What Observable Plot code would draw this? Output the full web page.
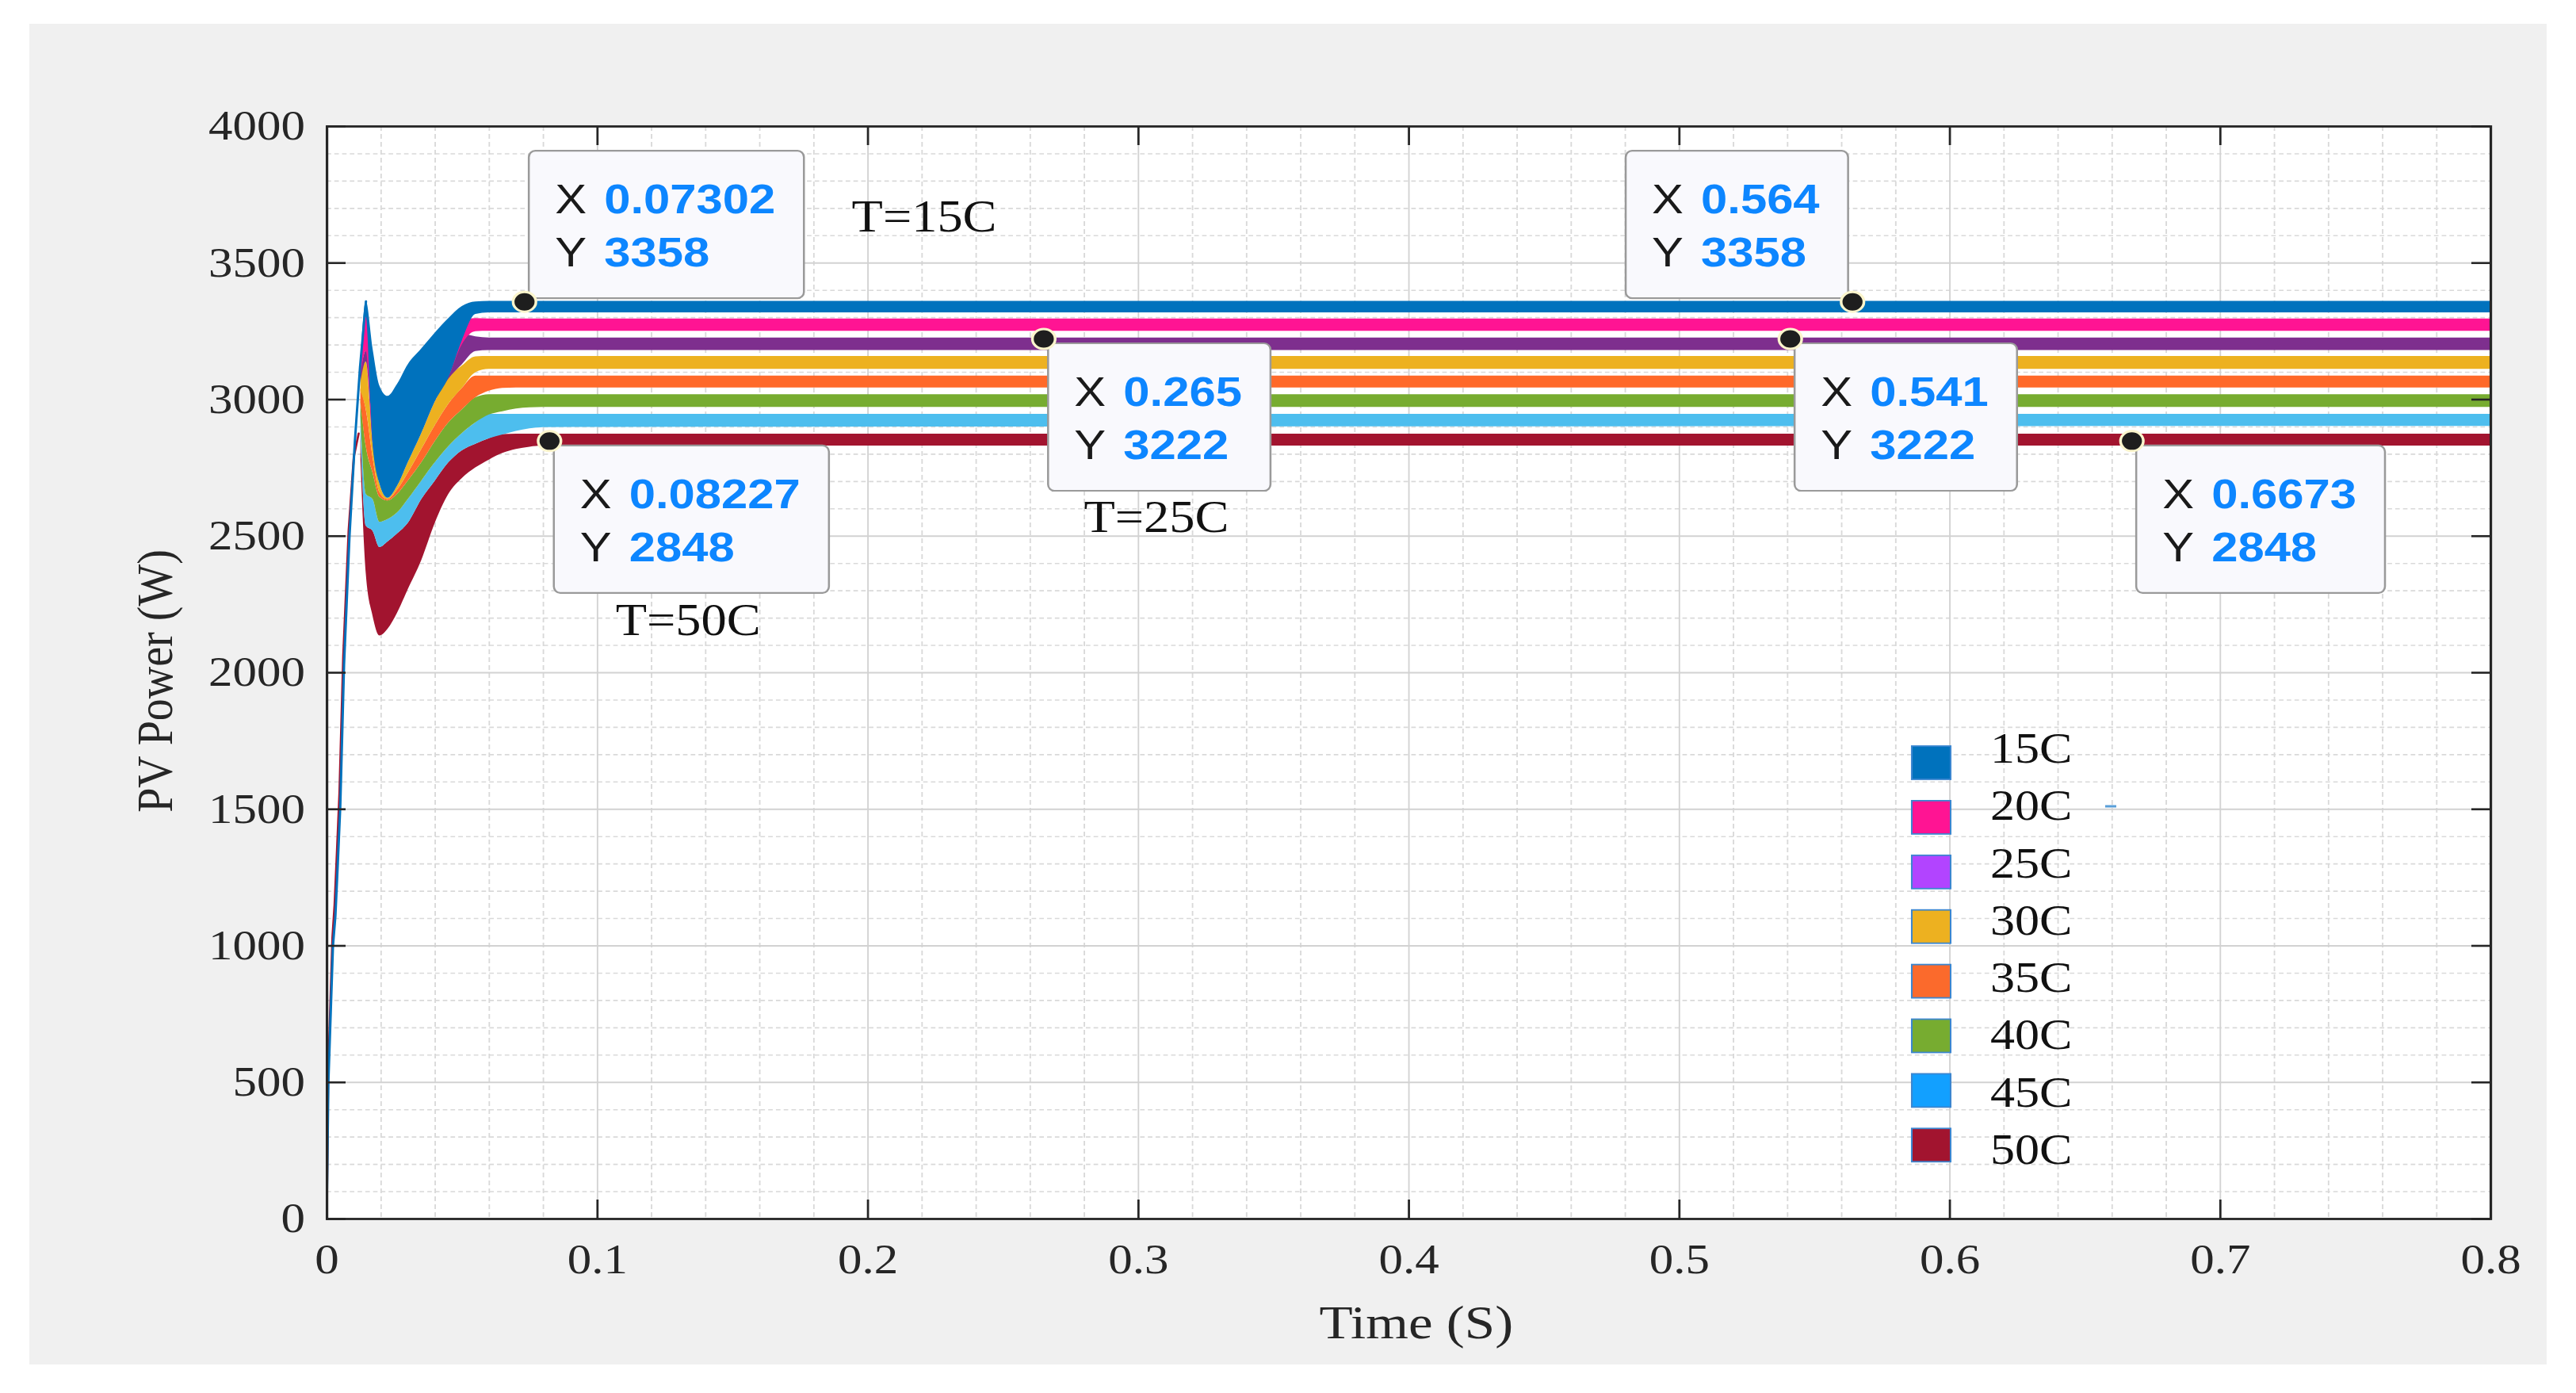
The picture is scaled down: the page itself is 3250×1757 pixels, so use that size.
<!DOCTYPE html>
<html><head><meta charset="utf-8">
<script src="https://cdn.jsdelivr.net/npm/d3@7"></script>
<script src="https://cdn.jsdelivr.net/npm/@observablehq/plot@0.6"></script>
<style>
html,body{margin:0;padding:0;background:#fff;}
#page{position:relative;width:3250px;height:1757px;overflow:hidden;background:#fff;}
#bg{position:absolute;left:36.5px;top:30px;width:3176.5px;height:1690.5px;background:#f0f0f0;}
#chart{position:absolute;left:0;top:0;width:2826.09px;height:1757px;transform:scaleX(1.15);transform-origin:0 0;}
</style></head><body><div id="page"><div id="bg"></div><div id="chart"></div></div>
<script>
// ---------- data ----------
const series = ["15C","20C","25C","30C","35C","40C","45C","50C"];
const lineColors = ["#0072bd","#ff1493","#7e2f8e","#edb120","#ff6929","#77ac30","#4dbeee","#a2142f"];
const legendColors = ["#0072bd","#ff1493","#b244ff","#edb120","#fb6a2c","#77ac30","#12a0ff","#a2142f"];

const time = [0.0125, 0.0145, 0.017, 0.0195, 0.0225, 0.026, 0.03, 0.035, 0.04, 0.045, 0.05, 0.055, 0.06, 0.065, 0.07, 0.075, 0.08, 0.8];
const hi15 = [3138, 3360, 3186, 3050, 3012, 3055, 3128, 3186, 3244, 3297, 3341, 3358, 3360, 3360, 3360, 3360, 3360, 3360];
const lo15 = [3099, 3302, 2837, 2692, 2639, 2682, 2769, 2876, 2992, 3079, 3215, 3312, 3318, 3318, 3318, 3318, 3318, 3318];
const hi20 = [3118, 3302, 3150, 3020, 2990, 3030, 3100, 3160, 3220, 3270, 3290, 3297, 3295, 3295, 3295, 3295, 3295, 3295];
const lo20 = [3079, 3176, 2840, 2700, 2645, 2690, 2775, 2880, 2995, 3080, 3201, 3249, 3250, 3250, 3250, 3250, 3250, 3250];
const hi25 = [3099, 3176, 3100, 3000, 2980, 3000, 3060, 3120, 3180, 3230, 3240, 3230, 3226, 3226, 3226, 3226, 3226, 3226];
const lo25 = [3060, 3138, 2840, 2700, 2645, 2690, 2775, 2880, 2995, 3075, 3128, 3176, 3180, 3180, 3180, 3180, 3180, 3180];
const hi30 = [3079, 3138, 2837, 2692, 2639, 2682, 2769, 2876, 2992, 3079, 3123, 3157, 3158, 3158, 3158, 3158, 3158, 3158];
const lo30 = [3030, 2963, 2789, 2660, 2634, 2668, 2731, 2818, 2905, 2983, 3041, 3099, 3111, 3111, 3111, 3111, 3111, 3111];
const hi35 = [3040, 2963, 2789, 2660, 2634, 2668, 2731, 2818, 2905, 2983, 3041, 3086, 3086, 3086, 3086, 3086, 3086, 3086];
const lo35 = [2990, 2828, 2731, 2643, 2629, 2653, 2702, 2769, 2847, 2915, 2963, 3007, 3031, 3041, 3043, 3043, 3043, 3043];
const hi40 = [3000, 2828, 2731, 2643, 2629, 2653, 2702, 2769, 2847, 2915, 2963, 3007, 3018, 3018, 3018, 3018, 3018, 3018];
const lo40 = [2940, 2653, 2634, 2551, 2561, 2585, 2634, 2702, 2769, 2828, 2876, 2915, 2944, 2956, 2966, 2970, 2972, 2972];
const hi45 = [2960, 2653, 2634, 2551, 2561, 2585, 2634, 2702, 2769, 2828, 2876, 2915, 2946, 2946, 2946, 2946, 2946, 2946];
const lo45 = [2880, 2537, 2518, 2459, 2479, 2508, 2547, 2634, 2702, 2769, 2813, 2837, 2857, 2871, 2884, 2893, 2898, 2902];
const hi50 = [2870, 2537, 2518, 2459, 2479, 2508, 2547, 2634, 2702, 2769, 2813, 2837, 2857, 2872, 2874, 2874, 2874, 2874];
const lo50 = [2780, 2362, 2207, 2135, 2159, 2217, 2304, 2411, 2547, 2653, 2711, 2750, 2779, 2803, 2818, 2826, 2830, 2830];

const riseTime = [0, 0.0005, 0.0022, 0.0031, 0.004, 0.0049, 0.0063, 0.0083, 0.0103, 0.0122, 0.0144];
const risePower = [110, 500, 1000, 1110, 1305, 1510, 2030, 2498, 2847, 3118, 3360];
const riseTime50 = [0, 0.0004, 0.002, 0.0028, 0.0037, 0.0046, 0.006, 0.008, 0.0099, 0.0117];
const risePower50 = [110, 520, 1030, 1150, 1350, 1560, 2060, 2520, 2790, 2876];

const tipX = [0.07302, 0.08227, 0.265, 0.564, 0.541, 0.6673];
const tipY = [3358, 2848, 3222, 3358, 3222, 2848];
const tipXLabel = ["0.07302", "0.08227", "0.265", "0.564", "0.541", "0.6673"];
const tipYLabel = ["3358", "2848", "3222", "3358", "3222", "2848"];

const noteText = ["T=15C", "T=25C", "T=50C"];
const noteX = [0.194, 0.2798, 0.1067];
const noteY = [3666, 2566, 2190];

const xTicks = [0, 0.1, 0.2, 0.3, 0.4, 0.5, 0.6, 0.7, 0.8];
const xTickLabels = ["0", "0.1", "0.2", "0.3", "0.4", "0.5", "0.6", "0.7", "0.8"];
const yTicks = [0, 500, 1000, 1500, 2000, 2500, 3000, 3500, 4000];
const yTickLabels = ["0", "500", "1000", "1500", "2000", "2500", "3000", "3500", "4000"];
const xTitle = "Time (S)";
const yTitle = "PV Power (W)";

// ---------- layout ----------
const S = 1.15;            // horizontal stretch of the reference figure
const P = v => v / S;      // page px (x) -> svg px
const frameL = P(412), frameR = P(3142), frameT = 159, frameB = 1537;
const frameW = frameR - frameL, frameH = frameB - frameT;
const SERIF = "Liberation Serif, Times New Roman, serif";
const SANS = "Liberation Sans, Arial, sans-serif";

const his = [hi15, hi20, hi25, hi30, hi35, hi40, hi45, hi50];
const los = [lo15, lo20, lo25, lo30, lo35, lo40, lo45, lo50];
const bands = series.map((s, k) => time.map((t, i) => ({t, hi: his[k][i], lo: los[k][i]})));
const rise = riseTime.map((t, i) => ({t, p: risePower[i]}));
const rise50 = riseTime50.map((t, i) => ({t, p: risePower50[i]}));
const xMinor = d3.range(0.02, 0.8, 0.02).filter(v => Math.abs(v * 10 - Math.round(v * 10)) > 1e-6);
const yMinor = d3.range(100, 4000, 100).filter(v => v % 500 !== 0);

const areaMarks = [];
for (let k = series.length - 1; k >= 0; k--) {
  areaMarks.push(Plot.areaY(bands[k], {x: "t", y1: "lo", y2: "hi", fill: lineColors[k], curve: "monotone-x"}));
}

const chart = Plot.plot({
  width: P(3250), height: 1757,
  marginLeft: frameL, marginRight: P(3250) - frameR, marginTop: frameT, marginBottom: 1757 - frameB,
  x: {domain: [0, 0.8]},
  y: {domain: [0, 4000]},
  style: {background: "transparent", maxWidth: "none", fontFamily: SERIF, fontSize: "53px", color: "#262626", overflow: "visible"},
  marks: [
    Plot.frame({fill: "white", stroke: "none"}),
    Plot.gridX(xMinor, {stroke: "#d9d9d9", strokeOpacity: 1, strokeWidth: 1.6, strokeDasharray: "6,4"}),
    Plot.gridY(yMinor, {stroke: "#d9d9d9", strokeOpacity: 1, strokeWidth: 1.6, strokeDasharray: "5,3.5"}),
    Plot.gridX(xTicks, {stroke: "#d2d2d2", strokeOpacity: 1, strokeWidth: 1.6}),
    Plot.gridY(yTicks, {stroke: "#d2d2d2", strokeOpacity: 1, strokeWidth: 1.8}),
    ...areaMarks,
    Plot.line(rise50, {x: "t", y: "p", stroke: lineColors[7], strokeWidth: 2.4, curve: "linear"}),
    Plot.line(rise, {x: "t", y: "p", stroke: lineColors[0], strokeWidth: 2.6, curve: "linear"}),
    Plot.frame({stroke: "#262626", strokeWidth: 2.8}),
    Plot.ruleX(xTicks, {x: d => d, insetTop: frameH - 24, stroke: "#262626", strokeWidth: 2.4}),
    Plot.ruleX(xTicks, {x: d => d, insetBottom: frameH - 24, stroke: "#262626", strokeWidth: 2.4}),
    Plot.ruleY(yTicks, {y: d => d, insetRight: frameW - P(24), stroke: "#262626", strokeWidth: 2.6}),
    Plot.ruleY(yTicks, {y: d => d, insetLeft: frameW - P(24), stroke: "#262626", strokeWidth: 2.6}),
    Plot.axisX(xTicks, {anchor: "bottom", tickSize: 0, tickPadding: 31, label: null, fontSize: 53,
      tickFormat: d => xTickLabels[xTicks.indexOf(d)]}),
    Plot.axisY(yTicks, {anchor: "left", tickSize: 0, tickPadding: 24, label: null, fontSize: 53,
      tickFormat: d => yTickLabels[yTicks.indexOf(d)]}),
    Plot.text(noteText, {x: (d, i) => noteX[i], y: (d, i) => noteY[i], text: d => d, textAnchor: "start",
      fontSize: 56, fill: "#111", fontFamily: SERIF}),
    Plot.text([xTitle], {frameAnchor: "bottom", dy: 151, dx: 8, text: d => d, fontSize: 60, fill: "#262626", fontFamily: SERIF}),
    Plot.dot(tipX.map((x, i) => ({x, y: tipY[i]})), {x: "x", y: "y", r: 12.5, fill: "#1e1e1e", stroke: "#fbf5cc", strokeWidth: 3})
  ]
});
document.getElementById("chart").appendChild(chart);

const svg = d3.select(chart);

// ---------- y-axis title (rotated) ----------
svg.append("text")
  .attr("transform", `translate(${P(196)},${(frameT + frameB) / 2 + 11}) rotate(-90)`)
  .attr("text-anchor", "middle").attr("dy", "0.32em")
  .attr("font-family", SERIF).attr("font-size", 56).attr("fill", "#262626")
  .text(yTitle);

// ---------- datatip boxes ----------
const sx = chart.scale("x"), sy = chart.scale("y");
const placement = ["ur", "lr", "lr", "ul", "lr", "lr"];
const boxLayer = svg.insert("g", "g[aria-label='dot']").attr("text-anchor", "start");
tipX.forEach((tx, i) => {
  const cx = sx.apply(tx), cy = sy.apply(tipY[i]);
  const g = boxLayer.append("g");
  const rect = g.append("rect").attr("rx", 7).attr("ry", 8)
    .attr("fill", "#f9f9fd").attr("stroke", "#9a9a9a").attr("stroke-width", 2.2);
  const mk = (label, bold, fill) => g.append("text").attr("text-anchor", "start").attr("font-family", SANS)
    .attr("font-size", 52).attr("font-weight", bold ? 700 : 400).attr("fill", fill).text(label);
  const xl = mk("X", false, "#1a1a1a"), yl = mk("Y", false, "#1a1a1a");
  const xv = mk(tipXLabel[i], true, "#0d86ff"), yv = mk(tipYLabel[i], true, "#0d86ff");
  const vw = Math.max(xv.node().getComputedTextLength(), yv.node().getComputedTextLength());
  const w = P(33) + P(62) + vw + P(36), h = 186;
  const left = placement[i] === "ul" ? cx - P(5) - w : cx + P(6);
  const top = placement[i] === "lr" ? cy + 6 : cy - 4 - h;
  rect.attr("x", left).attr("y", top).attr("width", w).attr("height", h);
  xl.attr("x", left + P(33)).attr("y", top + 79);
  yl.attr("x", left + P(33)).attr("y", top + 146);
  xv.attr("x", left + P(33) + P(62)).attr("y", top + 79);
  yv.attr("x", left + P(33) + P(62)).attr("y", top + 146);
});

// ---------- legend ----------
const lg = svg.append("g").attr("text-anchor", "start");
series.forEach((s, i) => {
  const cy = 962 + i * 68.9;
  lg.append("rect").attr("x", P(2412)).attr("y", cy - 21).attr("width", P(49)).attr("height", 42)
    .attr("fill", legendColors[i]).attr("stroke", "#3b86d0").attr("stroke-width", 1.8);
  lg.append("text").attr("text-anchor", "start").attr("x", P(2511)).attr("y", 944 + i * 72.3 + 18)
    .attr("font-family", SERIF).attr("font-size", 54).attr("fill", "#111").text(s);
});
lg.append("line").attr("x1", P(2656)).attr("x2", P(2670)).attr("y1", 1017).attr("y2", 1017)
  .attr("stroke", "#5a9fd8").attr("stroke-width", 3);
</script>
</body></html>
